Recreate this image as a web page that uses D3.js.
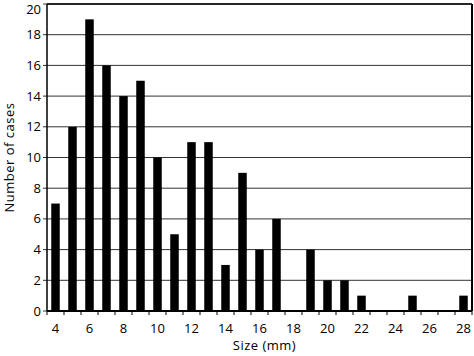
<!DOCTYPE html>
<html><head><meta charset="utf-8">
<script src="https://cdn.jsdelivr.net/npm/d3@7"></script>
<style>body{margin:0;background:#fff}svg{display:block}text{font-family:"Open Sans",sans-serif}</style>
</head><body>
<script>
const sizes = [4,5,6,7,8,9,10,11,12,13,14,15,16,17,18,19,20,21,22,23,24,25,26,27,28];
const cases = [7,12,19,16,14,15,10,5,11,11,3,9,4,6,0,4,2,2,1,0,0,1,0,0,1];
const yTicks = [0,2,4,6,8,10,12,14,16,18,20];
const xLabels = [4,6,8,10,12,14,16,18,20,22,24,26,28];

const W=474,H=356, m={l:47,r:2,t:4,b:45};
const svg=d3.select("body").append("svg").attr("width",W).attr("height",H);
const x=d3.scaleBand().domain(sizes).range([m.l,W-m.r]).paddingInner(0.5).paddingOuter(0.25);
const y=d3.scaleLinear().domain([0,20]).range([H-m.b,m.t]);

// gridlines
svg.append("g").selectAll("line").data(yTicks).join("line")
  .attr("x1",m.l-4).attr("x2",W-m.r).attr("y1",d=>y(d)).attr("y2",d=>y(d))
  .attr("stroke","#333").attr("stroke-width",1);

// bars
svg.append("g").selectAll("rect").data(sizes).join("rect")
  .attr("x",(d)=>x(d)).attr("width",x.bandwidth())
  .attr("y",(d,i)=>y(cases[i])).attr("height",(d,i)=>y(0)-y(cases[i]))
  .attr("fill","#000");

// frame
svg.append("line").attr("x1",m.l).attr("x2",m.l).attr("y1",m.t).attr("y2",y(0)).attr("stroke","#000").attr("stroke-width",1.5);
svg.append("line").attr("x1",W-m.r).attr("x2",W-m.r).attr("y1",m.t).attr("y2",y(0)).attr("stroke","#000").attr("stroke-width",2);
svg.append("line").attr("x1",m.l).attr("x2",W-m.r).attr("y1",m.t).attr("y2",m.t).attr("stroke","#000").attr("stroke-width",1.5);
svg.append("line").attr("x1",m.l).attr("x2",W-m.r).attr("y1",y(0)).attr("y2",y(0)).attr("stroke","#000").attr("stroke-width",2);

// x ticks at category boundaries
const step=x.step();
const bounds=d3.range(sizes.length+1).map(i=>m.l+i*step);
svg.append("g").selectAll("line").data(bounds).join("line")
  .attr("x1",d=>d).attr("x2",d=>d).attr("y1",y(0)).attr("y2",y(0)+4)
  .attr("stroke","#000");

// x labels
svg.append("g").selectAll("text").data(xLabels).join("text")
  .attr("x",d=>x(d)+x.bandwidth()/2).attr("y",y(0)+22)
  .attr("text-anchor","middle").attr("font-size",13).attr("fill","#000").text(d=>d);

// y labels
svg.append("g").selectAll("text").data(yTicks).join("text")
  .attr("x",m.l-6).attr("y",d=>Math.max(y(d)+4.5,14))
  .attr("text-anchor","end").attr("font-size",13).attr("fill","#000").text(d=>d);

// titles
svg.append("text").attr("x",(m.l+W-m.r)/2+5).attr("y",350)
  .attr("text-anchor","middle").attr("font-size",13).attr("letter-spacing","0.5").text("Size (mm)");
svg.append("text").attr("transform",`translate(14,${(m.t+y(0))/2}) rotate(-90)`)
  .attr("text-anchor","middle").attr("font-size",13).attr("letter-spacing","0.5").text("Number of cases");
</script>
</body></html>
